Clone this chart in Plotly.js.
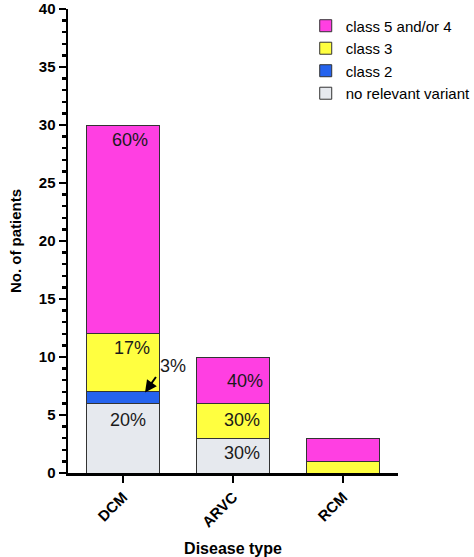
<!DOCTYPE html>
<html><head><meta charset="utf-8">
<script src="https://cdn.plot.ly/plotly-3.0.1.min.js"></script>
<style>html,body{margin:0;padding:0;background:#fff}#c{width:474px;height:557px}</style>
</head><body><div id="c"></div>
<script>
const categories = ["DCM", "ARVC", "RCM"];
const noRelevant = [6, 3, 0];
const class2 = [1, 0, 0];
const class3 = [5, 3, 1];
const class54 = [18, 4, 2];
const seriesNames = ["no relevant variant", "class 2", "class 3", "class 5 and/or 4"];
const pctLabels = ["60%", "17%", "3%", "20%", "40%", "30%", "30%"];
const tickLabels = ["0", "5", "10", "15", "20", "25", "30", "35", "40"];

const colors = ["#E6E9EE", "#2563EE", "#FFFF40", "#FF3FE2"];
const series = [noRelevant, class2, class3, class54];
const F = "Arial, 'Liberation Sans', sans-serif";
const xIdx = categories.map((c, i) => i);

const traces = series.map((v, i) => ({
  type: "bar", x: xIdx, y: v, name: seriesNames[i],
  marker: {color: colors[i], line: {color: "#333", width: 1}},
  width: 0.655, legendgroup: "g" + i, legendrank: 4 - i, hoverinfo: "skip"
}));

const labelPos = [[0.064, 28.7], [0.082, 10.8], [0.455, 9.25], [0.045, 4.54], [1.109, 7.97], [1.08, 4.54], [1.08, 1.7]];
const annotations = pctLabels.map((t, i) => ({
  x: labelPos[i][0], y: labelPos[i][1], xref: "x", yref: "y", text: t, showarrow: false,
  font: {family: F, size: 18, color: "#1a1a1a"}
}));
annotations.push({x: 0.2, y: 6.94, xref: "x", yref: "y", text: "", showarrow: true,
  ax: 12, ay: -17, arrowhead: 2, arrowsize: 1.2, arrowwidth: 2, arrowcolor: "#000"});

const layout = {
  width: 474, height: 557,
  margin: {l: 68, r: 76, t: 9, b: 84, autoexpand: false},
  barmode: "stack",
  paper_bgcolor: "#fff", plot_bgcolor: "#fff",
  font: {family: F, color: "#000"},
  xaxis: {
    type: "linear", range: [-0.5, 2.5], tickvals: xIdx, ticktext: categories.map(c => "<b>" + c + "</b>"),
    tickangle: -45, ticks: "outside", ticklen: 7, tickwidth: 2.5, tickcolor: "#000",
    showline: true, linecolor: "#000", linewidth: 2.5, showgrid: false, zeroline: false,
    tickfont: {family: F, size: 15}, automargin: false,
    title: {text: "<b>Disease type</b>", font: {family: F, size: 16}, standoff: 26}
  },
  yaxis: {
    range: [0, 40], tickvals: [0, 5, 10, 15, 20, 25, 30, 35, 40], ticktext: tickLabels.map(t => "<b>" + t + "</b>"),
    ticks: "outside", ticklen: 7, tickwidth: 2.5, tickcolor: "#000", ticklabeloverflow: "allow",
    minor: {dtick: 1, ticks: "outside", ticklen: 4, tickwidth: 2.5, tickcolor: "#000"},
    showline: true, linecolor: "#000", linewidth: 2.5, showgrid: false, zeroline: false,
    tickfont: {family: F, size: 15}, automargin: false,
    title: {text: "<b>No. of patients</b>", font: {family: F, size: 15}, standoff: 14}
  },
  showlegend: true,
  legend: {xref: "container", yref: "container", x: 0.645, y: 0.983, xanchor: "left", yanchor: "top", traceorder: "grouped",
    tracegroupgap: 0, font: {family: F, size: 15, color: "#000"}, bgcolor: "rgba(0,0,0,0)"},
  annotations: annotations
};

Plotly.newPlot("c", traces, layout, {displayModeBar: false, staticPlot: true});
</script></body></html>
